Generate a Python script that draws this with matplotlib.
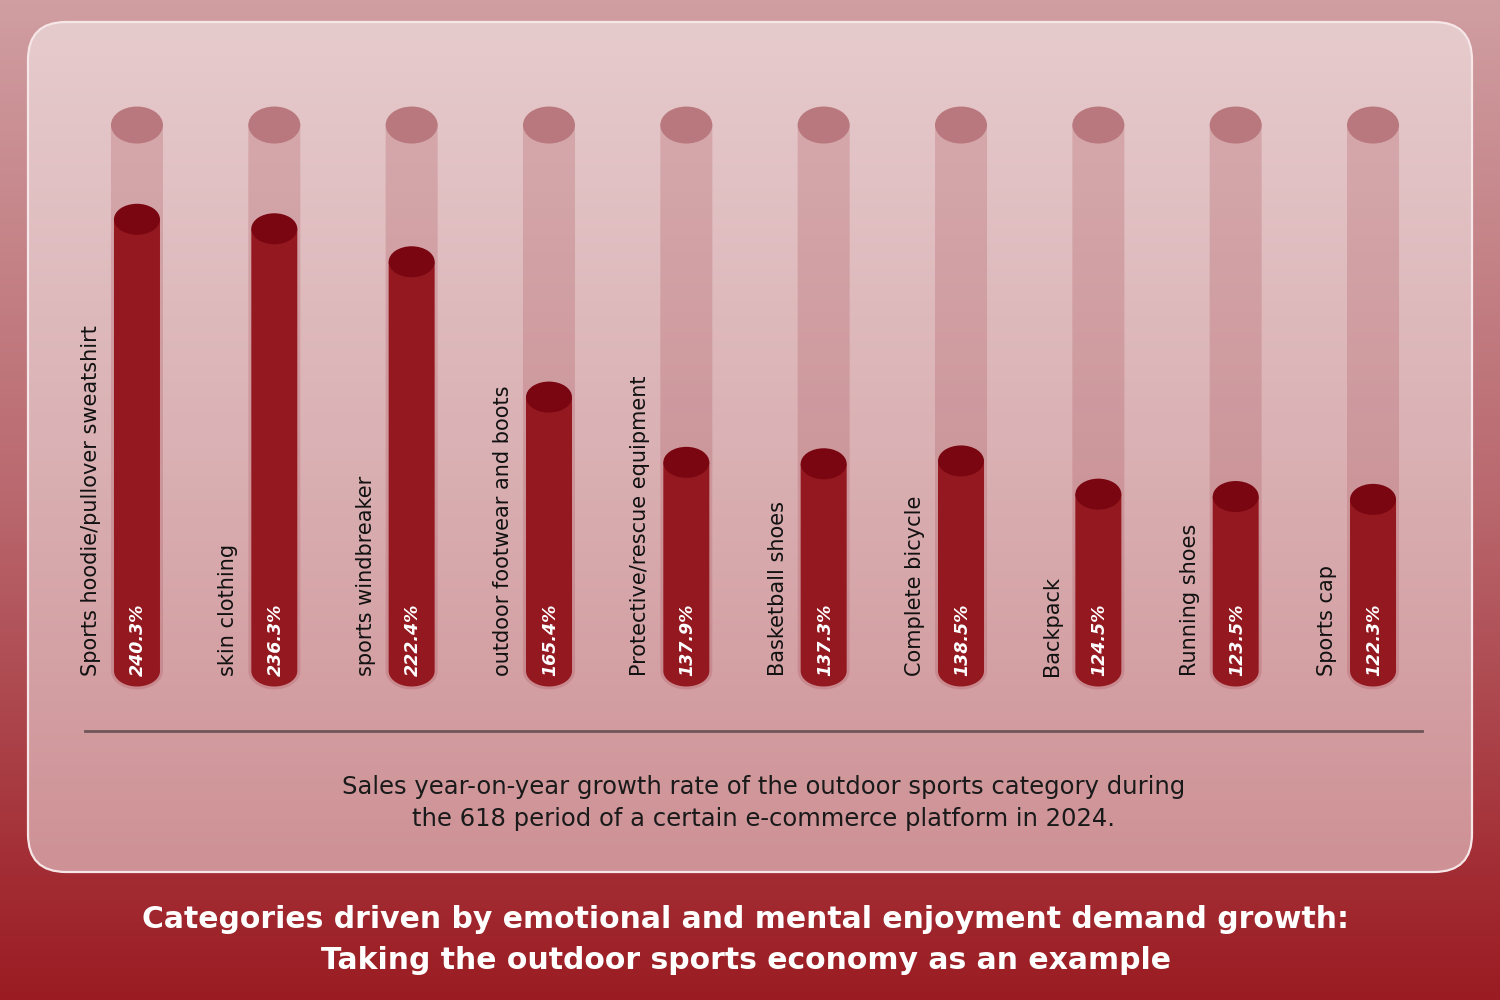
import numpy as np
import matplotlib
matplotlib.use("Agg")
import matplotlib.pyplot as plt
from matplotlib.patches import Polygon, Ellipse, FancyBboxPatch
from matplotlib.lines import Line2D

categories = ["Sports hoodie/pullover sweatshirt", "skin clothing", "sports windbreaker",
              "outdoor footwear and boots", "Protective/rescue equipment", "Basketball shoes",
              "Complete bicycle", "Backpack", "Running shoes", "Sports cap"]
growth = [240.3, 236.3, 222.4, 165.4, 137.9, 137.3, 138.5, 124.5, 123.5, 122.3]
value_labels = ["240.3%", "236.3%", "222.4%", "165.4%", "137.9%", "137.3%",
                "138.5%", "124.5%", "123.5%", "122.3%"]

BASE = 50
TRACK_MAX = 280

caption = ("Sales year-on-year growth rate of the outdoor sports category during\n"
           "the 618 period of a certain e-commerce platform in 2024.")
title = ("Categories driven by emotional and mental enjoyment demand growth:\n"
         "Taking the outdoor sports economy as an example")

W, H = 1500, 1000
fig = plt.figure(figsize=(15, 10), dpi=100)


def gradient(stops, n=500):
    pos = np.array([s[0] for s in stops])
    cols = np.array([s[1] for s in stops], dtype=float) / 255
    t = np.linspace(0, 1, n)
    rgb = np.stack([np.interp(t, pos, cols[:, k]) for k in range(3)], axis=1)
    return rgb[:, None, :]


# background (pixel coordinates, y downwards)
bg = fig.add_axes([0, 0, 1, 1])
bg.set_xlim(0, W)
bg.set_ylim(H, 0)
bg.axis("off")
outer = gradient([(0, (208, 158, 161)), (0.5, (185, 104, 110)),
                  (0.87, (163, 45, 52)), (1.0, (154, 28, 34))])
bg.imshow(outer, extent=[0, W, H, 0], aspect="auto", zorder=0)

panel = FancyBboxPatch((28, 22), 1444, 850, boxstyle="round,pad=0,rounding_size=38",
                       facecolor="none", edgecolor="none")
bg.add_patch(panel)
inner = gradient([(0, (230, 203, 205)), (0.5, (218, 177, 180)), (1.0, (206, 145, 149))])
im = bg.imshow(inner, extent=[28, 1472, 872, 22], aspect="auto", zorder=1)
im.set_clip_path(panel)
bg.add_patch(FancyBboxPatch((28, 22), 1444, 850, boxstyle="round,pad=0,rounding_size=38",
                            facecolor="none", edgecolor="#f6e6e7", linewidth=1.6, zorder=2))

# baseline
bg.add_line(Line2D([85, 1422], [731, 731], color="#6e5557", linewidth=2, zorder=3))

bg.text(764, 803, caption, ha="center", va="center", fontsize=17.5, color="#1a1a1a",
        linespacing=1.45, zorder=3)
bg.text(746, 940, title, ha="center", va="center", fontsize=21.5, fontweight="bold",
        color="white", linespacing=1.55, zorder=3)

# chart axes: ylim (20, 290) mapped so BASE sits at y=671px and TRACK_MAX at y=125px
ax = fig.add_axes([68.3 / W, 1 - 742.2 / H, 1373.4 / W, 640.9 / H])
ax.set_xlim(-0.5, len(categories) - 0.5)
ax.set_ylim(20, 290)
ax.axis("off")
ax.patch.set_alpha(0)

px_per_unit = 640.9 / 270
px_per_x = 1373.4 / len(categories)
track_w = 52 / px_per_x
bar_w = 46 / px_per_x
track_eh = 37 / px_per_unit
bar_eh = 31 / px_per_unit


def cylinder(x, y0, y1, w, eh, n=40):
    t = np.linspace(np.pi, 2 * np.pi, n)
    arc = np.column_stack([x + w / 2 * np.cos(t), y0 + eh / 2 * np.sin(t)])
    pts = np.vstack([[x - w / 2, y1], arc, [x + w / 2, y1]])
    return pts


for i, (cat, v, lab) in enumerate(zip(categories, growth, value_labels)):
    ax.add_patch(Polygon(cylinder(i, BASE, TRACK_MAX, track_w, track_eh), closed=True,
                         facecolor=(160 / 255, 60 / 255, 70 / 255, 0.21), edgecolor="none", zorder=1))
    ax.add_patch(Ellipse((i, TRACK_MAX), track_w, track_eh, facecolor="#b9787d",
                         edgecolor="none", zorder=2))
    ax.add_patch(Polygon(cylinder(i, BASE, v, bar_w, bar_eh), closed=True,
                         facecolor="#93181f", edgecolor="none", zorder=3))
    ax.add_patch(Ellipse((i, v), bar_w, bar_eh, facecolor="#7a0611", edgecolor="none", zorder=4))
    ax.text(i - 0.335, BASE - 2, cat, rotation=90, ha="center", va="bottom",
            fontsize=15, color="#111111", zorder=5)
    ax.text(i + 0.01, BASE - 2, lab, rotation=90, ha="center", va="bottom",
            fontsize=12.5, fontweight="bold", fontstyle="italic", color="white", zorder=5)

fig.savefig("out.png", dpi=100)
